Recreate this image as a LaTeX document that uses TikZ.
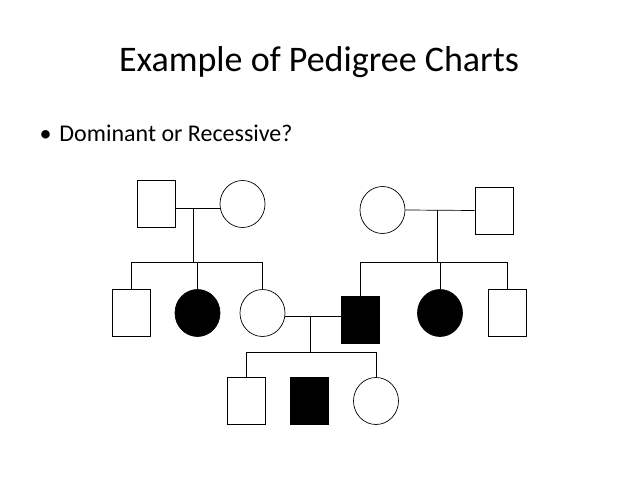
\documentclass[tikz,border=0pt]{standalone}
\usepackage{fontspec}
\setmainfont{Carlito}
\usetikzlibrary{shapes.geometric}
\begin{document}
\begin{tikzpicture}[x=1pt,y=-1pt,
  ln/.style={draw=black,line width=0.7pt},
  male/.style={ln,fill=white,rectangle,minimum width=38pt,minimum height=47pt,inner sep=0pt},
  fem/.style={ln,fill=white,ellipse,minimum width=45pt,minimum height=47pt,inner sep=0pt},
  aff/.style={fill=black}]
\useasboundingbox (0,0) rectangle (638,478);
\node[font=\fontsize{36}{40}\selectfont] (title) at (319,62) {Example of Pedigree Charts};
\node[anchor=west,font=\fontsize{24}{28}\selectfont] (sub) at (36,133) {\textbullet\hspace{8pt}Dominant or Recessive?};
% gen 1
\node[male] (a1) at (156.5,204) {};
\node[fem] (a2) at (242.5,204) {};
\node[fem] (b1) at (382.5,210) {};
\node[male] (b2) at (494,210.5) {};
% gen 2
\node[male] (c1) at (131,312.5) {};
\node[fem,aff] (c2) at (197.5,313) {};
\node[fem] (c3) at (262.5,313) {};
\node[male,aff] (d1) at (360.5,319.5) {};
\node[fem,aff] (d2) at (440,313) {};
\node[male] (d3) at (507,312.5) {};
% gen 3
\node[male] (e1) at (246.5,401) {};
\node[male,aff] (e2) at (309,401) {};
\node[fem] (e3) at (376,401) {};
% lines
\draw[ln] (a1.east|-0,208) -- coordinate[pos=0.4] (m1) (a2.west|-0,208);
\draw[ln] (m1) -- (m1|-0,262) coordinate (s1);
\draw[ln] (c1.north) -- (c1|-0,262) -- (c3|-0,262) -- (c3.north);
\draw[ln] (c2.north) -- (c2|-0,262);
\draw[ln] (b1.east) -- (b2.west);
\draw[ln] (437,210) coordinate (m2) -- (437,262);
\draw[ln] (d1.north) -- (d1|-0,262) -- (d3|-0,262) -- (d3.north);
\draw[ln] (d2.north) -- (d2|-0,262);
\draw[ln] (c3.east|-0,316) -- (d1.west|-0,316);
\draw[ln] (310,316) -- (310,352);
\draw[ln] (e1.north) -- (e1|-0,352) -- (e3|-0,352) -- (e3.north);
\end{tikzpicture}
\end{document}
